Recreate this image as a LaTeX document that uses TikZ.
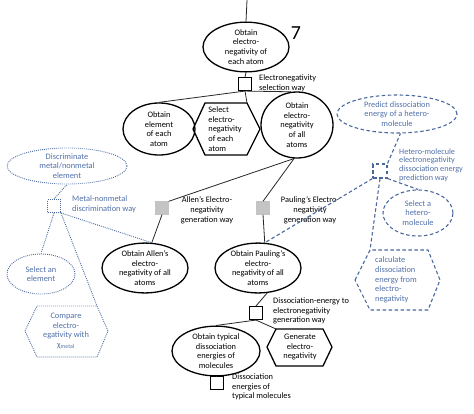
\documentclass[tikz,border=0pt]{standalone}
\usepackage{fontspec}
\setmainfont{Carlito}
\usetikzlibrary{shapes.geometric}
\definecolor{bl}{RGB}{74,104,158}
\definecolor{blt}{RGB}{80,112,170}
\definecolor{sqgray}{RGB}{196,196,196}
\tikzset{
  txt/.style={font=\fontsize{8.4}{9.8}\selectfont, align=center, inner sep=0pt},
  ltxt/.style={font=\fontsize{8.4}{9.8}\selectfont, align=left, inner sep=0pt},
  bell/.style={ellipse, draw=black, line width=1.3bp, inner sep=0pt, txt},
  bsq/.style={rectangle, draw=black, line width=1.1bp, minimum size=13bp, inner sep=0pt},
  gsq/.style={rectangle, fill=sqgray, draw=sqgray, minimum size=13bp, inner sep=0pt},
  conn/.style={draw=black!85, line width=0.8bp},
  dotl/.style={draw=bl, line width=0.9bp, dash pattern=on 0.9bp off 1.1bp},
  dashl/.style={draw=bl, line width=1.1bp, dash pattern=on 3.5bp off 2.5bp},
  dotell/.style={ellipse, dotl, inner sep=0pt, txt, text=blt},
  dashell/.style={ellipse, dashl, inner sep=0pt, txt, text=blt},
  hexb/.style={draw=black, line width=1.3bp, line join=miter},
}
\begin{document}
\begin{tikzpicture}[x=1bp,y=-1bp]
\useasboundingbox (0,0) rectangle (474,413);

% ---- top ----
\coordinate (topin) at (247,0);
\node[bell, minimum width=86bp, minimum height=46bp] (topE) at (246,47) {Obtain\\electro-\\negativity of\\each atom};
\node[font=\fontsize{20}{20}\selectfont, inner sep=0pt] (seven) at (296,33) {7};
\draw[conn] (topin) -- (topE.north);
\node[bsq] (sq1) at (245,84) {};
\draw[conn] (topE.south) -- (sq1.north);
\node[ltxt, anchor=west] (sq1l) at (259,83) {Electronegativity\\selection way};

% ---- level 2 ----
\node[bell, minimum width=72bp, minimum height=52bp] (elemE) at (159,129) {Obtain\\element\\of each\\atom};
\draw[hexb] (193,129) -- (205,103) coordinate (selNE0) -- (247,103) coordinate (selNE) -- (260,129) -- (247,155) -- (205,155) -- cycle;
\node[ltxt] (selH) at (225,129) {Select\\electro-\\negativity\\of each\\atom};
\node[bell, minimum width=72bp, minimum height=66bp] (allE) at (297,125) {Obtain\\electro-\\negativity\\of all\\atoms};
\draw[conn] (sq1.south) -- (elemE.north);
\draw[conn] (sq1.south) -- (selNE);
\draw[conn] (sq1.south) -- (allE.100);

% ---- generation ways ----
\node[gsq] (gA) at (162,208) {};
\node[txt] (gAl) at (207,210) {Allen's Electro-\\negativity\\generation way};
\node[gsq] (gP) at (263,208) {};
\node[txt] (gPl) at (310,210) {Pauling's Electro-\\negativity\\generation way};
\draw[conn] (allE.265) -- (gA.north east);
\draw[conn] (allE.265) -- (gP.north);

\node[bell, minimum width=86bp, minimum height=44bp] (allenE) at (145,268) {Obtain Allen's\\electro-\\negativity of all\\atoms};
\node[bell, minimum width=86bp, minimum height=44bp] (paulE) at (258,268) {Obtain Pauling's\\electro-\\negativity of all\\atoms};
\draw[conn] (gA.south) -- (allenE.75);
\draw[conn] (gP.south) -- (paulE.75);

% ---- dissociation ----
\node[bsq] (sq2) at (256,313) {};
\node[ltxt, anchor=west] (sq2l) at (273,311) {Dissociation-energy to\\electronegativity\\generation way};
\draw[conn] (paulE.290) -- (sq2.north);
\node[bell, minimum width=88bp, minimum height=44bp] (typE) at (216,351) {Obtain typical\\dissociation\\energies of\\molecules};
\draw[hexb] (267,347) -- (276,329) coordinate (genNW) -- (323,329) -- (332,347) -- (323,366) -- (276,366) -- cycle;
\node[txt] (genH) at (300,347) {Generate\\electro-\\negativity};
\draw[conn] (sq2.south) -- (typE.north);
\draw[conn] (sq2.south) -- (genNW);
\node[bsq] (sq3) at (217,383) {};
\draw[conn] (typE.south) -- (sq3.north);
\node[ltxt, anchor=west] (sq3l) at (232,387) {Dissociation\\energies of\\typical molecules};

% ---- left, dotted ----
\node[dotell, minimum width=120bp, minimum height=36bp] (discE) at (67,166) {Discriminate\\metal/nonmetal\\element};
\node[rectangle, dotl, minimum size=13bp, inner sep=0pt] (mSq) at (54,206) {};
\node[ltxt, anchor=west, text=blt] (mSql) at (72,204) {Metal-nonmetal\\discrimination way};
\node[dotell, minimum width=68bp, minimum height=40bp] (selE) at (41,274) {Select an\\element};
\draw[dotl] (25,331) -- (37,306) -- (97,306) coordinate (compNE) -- (108,331) -- (97,357) -- (37,357) -- cycle;
\node[txt, text=blt] (compH) at (66,331) {Compare\\electro-\\egativity with\\χ\textsubscript{metal}};
\draw[dotl] (mSq.north) -- (discE.south);
\draw[dotl] (mSq.south) -- (selE.north);
\draw[dotl] (mSq.south east) -- (compNE);
\draw[dotl] (mSq.south east) -- (allenE.75);

% ---- right, dashed ----
\node[dashell, minimum width=120bp, minimum height=38bp] (predE) at (397,114) {Predict dissociation\\energy of a hetero-\\molecule};
\node[rectangle, dashl, minimum size=14bp, inner sep=0pt] (hSq) at (380,171) {};
\node[font=\fontsize{8.2}{8.8}\selectfont, align=left, inner sep=0pt, anchor=west, text=blt] (hSql) at (399,165) {Hetero-molecule\\electronegativity\\dissociation energy\\prediction way};
\node[dashell, minimum width=70bp, minimum height=46bp] (selHE) at (418,213) {Select a\\hetero-\\molecule};
\draw[dashl] (355,280) -- (370,250) coordinate (calcNW) -- (428,250) -- (440,280) -- (428,310) -- (370,310) -- cycle;
\node[ltxt, text=blt] (calcH) at (396,280) {calculate\\dissociation\\energy from\\electro-\\negativity};
\draw[dashl] (hSq.north east) -- (predE.280);
\draw[dashl] (hSq.south east) -- (selHE.north);
\draw[dashl] (hSq.south) -- (calcNW);
\draw[dashl] (hSq.south west) -- (paulE.75);
\end{tikzpicture}
\end{document}
